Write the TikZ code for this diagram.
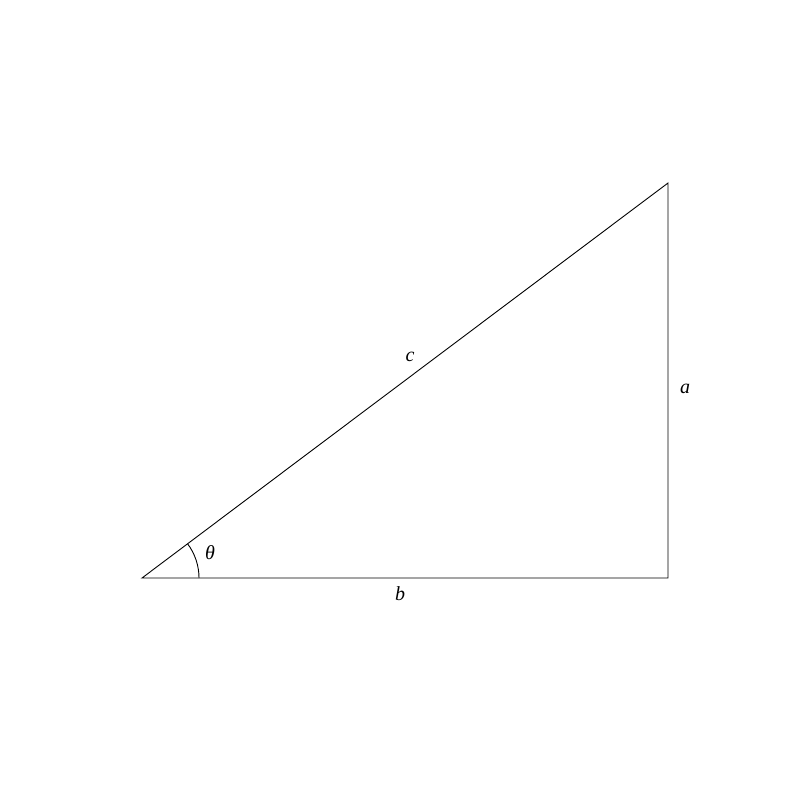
\documentclass[tikz,border=0pt]{standalone}
\usepackage{fontspec}
\setmainfont{Liberation Serif}
\tikzset{lbl/.style={font=\fontsize{20}{24}\selectfont\itshape, inner sep=0pt}, edge/.style={line width=0.9pt}}
\begin{document}
\begin{tikzpicture}[x=1pt,y=-1pt]
\useasboundingbox (0,0) rectangle (790,790);
\coordinate (A) at (142,578);
\coordinate (B) at (668,578);
\coordinate (C) at (668,183);
\draw[edge] (A) -- (B) -- (C) -- cycle;
\draw[edge] (199,578) arc[start angle=0, end angle=-36.9, radius=57];
\node[lbl] (lc) at (410,357) {c};
\node[lbl] (la) at (685,389) {a};
\node[lbl] (lb) at (400,594) {b};
\node[lbl] (lt) at (210,553) {θ};
\end{tikzpicture}
\end{document}
